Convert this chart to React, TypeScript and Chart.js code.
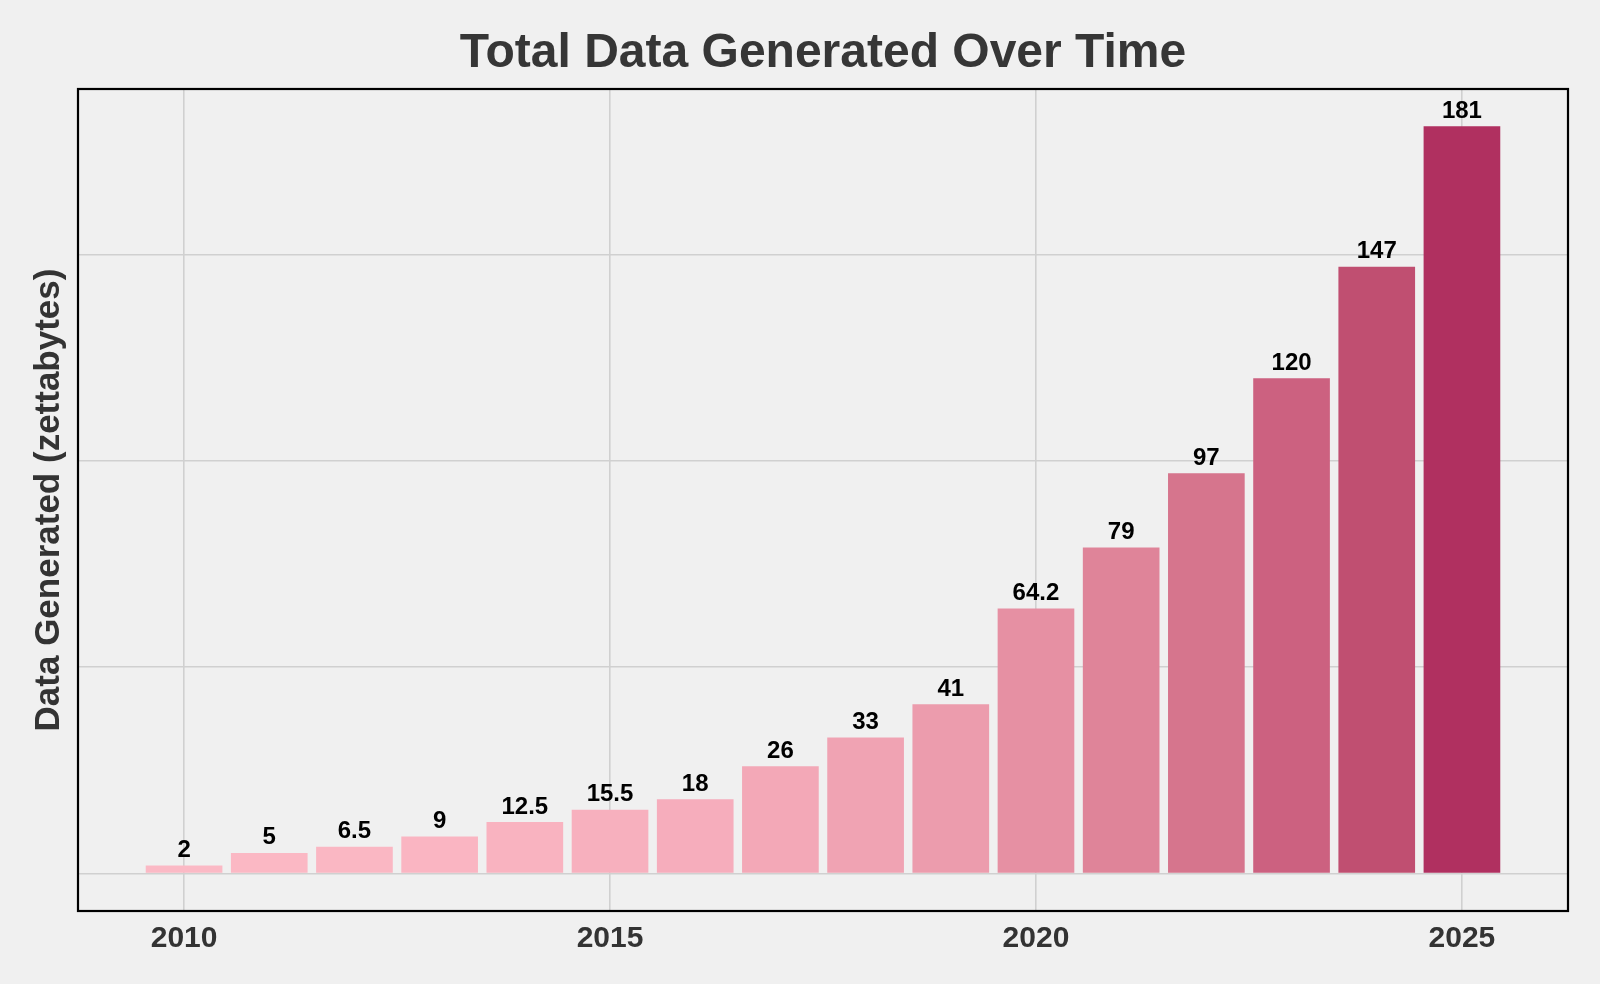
import React, { useEffect, useRef } from "react";
import { Chart, registerables } from "chart.js";

Chart.register(...registerables);

const years = [2010, 2011, 2012, 2013, 2014, 2015, 2016, 2017, 2018, 2019, 2020, 2021, 2022, 2023, 2024, 2025];
const values = [2, 5, 6.5, 9, 12.5, 15.5, 18, 26, 33, 41, 64.2, 79, 97, 120, 147, 181];
const barColors = [
  "#fbb9c5", "#fbb8c4", "#fab7c3", "#fab5c2", "#f9b3c0", "#f7b0be",
  "#f6adbc", "#f3a8b7", "#f0a3b3", "#ec9cad", "#e690a3", "#df8499",
  "#d6758d", "#cc6180", "#c04f71", "#b03060",
];
const xTicks = [2010, 2015, 2020, 2025];
const yTicks = [0, 50, 100, 150];
const titleText = "Total Data Generated Over Time";
const yAxisTitle = "Data Generated (zettabytes)";

const FONT = '"Liberation Sans", Arial, Helvetica, sans-serif';

export default function App() {
  const canvasRef = useRef<HTMLCanvasElement | null>(null);

  useEffect(() => {
    document.body.style.margin = "0";
    document.body.style.background = "#f0f0f0";
    const canvas = canvasRef.current;
    if (!canvas) return;

    const decor = {
      id: "decor",
      beforeDraw(chart: any) {
        const ctx = chart.ctx;
        ctx.save();
        ctx.fillStyle = "#f0f0f0";
        ctx.fillRect(0, 0, chart.width, chart.height);
        ctx.restore();
      },
      afterDatasetsDraw(chart: any) {
        const ctx = chart.ctx;
        const meta = chart.getDatasetMeta(0);
        ctx.save();
        ctx.fillStyle = "#000000";
        ctx.font = `bold 24px ${FONT}`;
        ctx.textAlign = "center";
        ctx.textBaseline = "alphabetic";
        meta.data.forEach((bar: any, i: number) => {
          ctx.fillText(String(values[i]), bar.x, bar.y - 8.5);
        });
        ctx.restore();
      },
      afterDraw(chart: any) {
        const ctx = chart.ctx;
        const a = chart.chartArea;
        ctx.save();
        ctx.strokeStyle = "#000000";
        ctx.lineWidth = 2.2;
        ctx.strokeRect(a.left, a.top, a.right - a.left, a.bottom - a.top);
        // title
        ctx.fillStyle = "#363636";
        ctx.font = `bold 48px ${FONT}`;
        ctx.textAlign = "center";
        ctx.textBaseline = "alphabetic";
        ctx.fillText(titleText, (a.left + a.right) / 2, 67);
        // y-axis title
        ctx.save();
        ctx.translate(59, (a.top + a.bottom) / 2);
        ctx.rotate(-Math.PI / 2);
        ctx.font = `bold 35px ${FONT}`;
        ctx.fillStyle = "#333333";
        ctx.fillText(yAxisTitle, 0, 0);
        ctx.restore();
        ctx.restore();
      },
    };

    const chart = new Chart(canvas, {
      type: "bar",
      data: {
        datasets: [
          {
            data: years.map((y, i) => ({ x: y, y: values[i] })),
            backgroundColor: barColors,
            borderWidth: 0,
            barPercentage: 0.9,
            categoryPercentage: 1.0,
          },
        ],
      },
      options: {
        responsive: false,
        animation: false,
        devicePixelRatio: 1,
        layout: { padding: { top: 89, right: 32, left: 0, bottom: 0 } },
        plugins: {
          legend: { display: false },
          tooltip: { enabled: false },
          title: { display: false },
        },
        scales: {
          x: {
            type: "linear",
            min: 2008.755,
            max: 2026.245,
            offset: false,
            grid: { offset: false, color: "#d0d0d0", lineWidth: 1.6, drawTicks: false },
            border: { display: false },
            ticks: {
              color: "#333333",
              font: { family: FONT, size: 30, weight: "bold" },
              padding: 10,
              callback: (v: any) => String(v),
            },
            afterBuildTicks: (scale: any) => {
              scale.ticks = xTicks.map((v) => ({ value: v }));
            },
            afterFit: (scale: any) => {
              scale.height = 73;
            },
          },
          y: {
            type: "linear",
            min: -9.05,
            max: 190.05,
            grid: { color: "#d0d0d0", lineWidth: 1.6, drawTicks: false },
            border: { display: false },
            ticks: { display: false },
            afterBuildTicks: (scale: any) => {
              scale.ticks = yTicks.map((v) => ({ value: v }));
            },
            afterFit: (scale: any) => {
              scale.width = 78;
            },
          },
        },
      },
      plugins: [decor],
    } as any);

    return () => chart.destroy();
  }, []);

  return (
    <div style={{ width: 1600, height: 984, background: "#f0f0f0" }}>
      <canvas ref={canvasRef} width={1600} height={984} style={{ display: "block" }} />
    </div>
  );
}
